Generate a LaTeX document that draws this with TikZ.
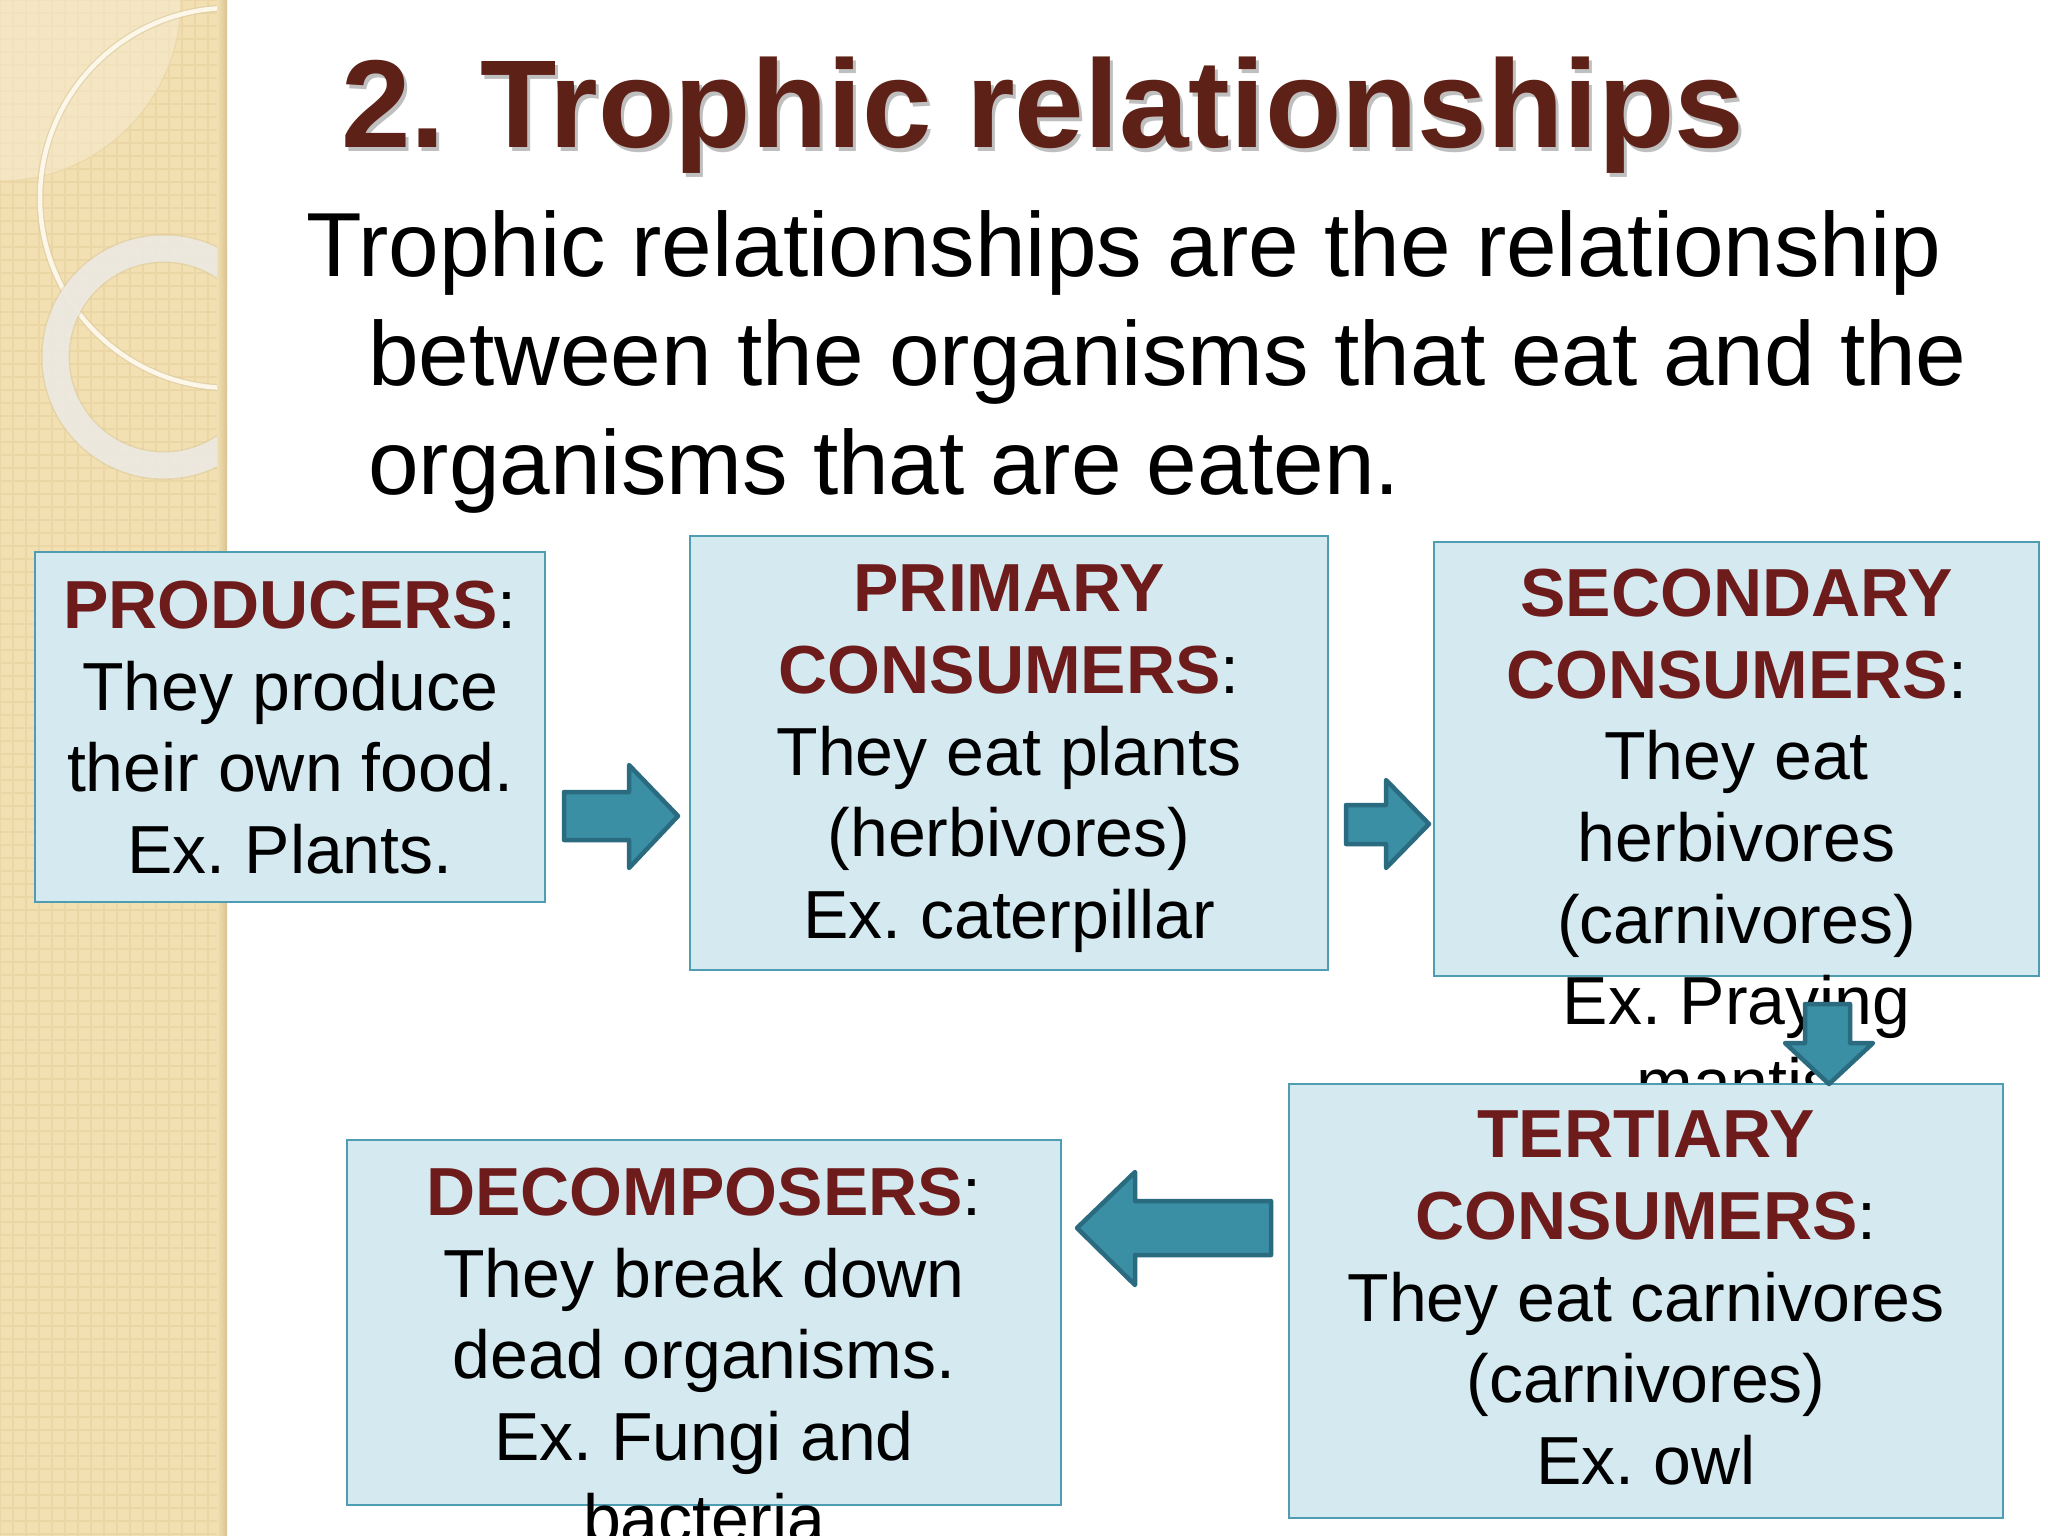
\documentclass[tikz,border=0pt]{standalone}
\usepackage{fontspec}
\setmainfont{Liberation Sans}
\usetikzlibrary{calc}
\frenchspacing

\definecolor{strip}{HTML}{F2E0B2}
\definecolor{stripdk}{HTML}{EBD7A6}
\definecolor{stripedge}{HTML}{D8C390}
\definecolor{leaf}{HTML}{F6EACD}
\definecolor{ringc}{HTML}{EDEAE2}
\definecolor{ringedge}{HTML}{D9C9A0}
\definecolor{thinring}{HTML}{FCF7E8}
\definecolor{titlered}{HTML}{5E2118}
\definecolor{headred}{HTML}{6E1B1B}
\definecolor{boxfill}{HTML}{D5E9F0}
\definecolor{boxline}{HTML}{4E9DB2}
\definecolor{arrfill}{HTML}{3A8FA5}
\definecolor{arrline}{HTML}{2B6B80}

\newcommand{\hd}{\bfseries\color{headred}}

\begin{document}
\begin{tikzpicture}[x=1pt,y=-1pt,
  box/.style={draw=boxline, line width=2.2pt, fill=boxfill, inner sep=0pt, anchor=north west},
  boxtext/.style={anchor=north, align=center, inner sep=0pt, font=\fontsize{68}{81.6}\selectfont},
  bodytext/.style={anchor=base west, inner sep=0pt, font=\fontsize{91}{109}\selectfont},
  blockarrow/.style={draw=arrline, fill=arrfill, line width=4.5pt, line join=round}]

\useasboundingbox (0,0) rectangle (2048,1536);
\clip (0,0) rectangle (2048,1536);
\fill[white] (0,0) rectangle (2048,1536);

% left decorative strip
\begin{scope}
  \clip (0,0) rectangle (227,1536);
  \fill[strip] (0,0) rectangle (227,1536);
  \draw[stripdk, line width=1.2pt, step=13pt] (0,0) grid (227,1536);
  \fill[leaf, opacity=.6] (0,0) -- (181,0) arc (0:90:181) -- cycle;
  \draw[stripdk, line width=1pt] (181,0) arc (0:90:181);
  \draw[ringedge, line width=7pt, opacity=.6] (230,198) circle (190);
  \draw[thinring, line width=4.5pt] (230,198) circle (190);
  \draw[ringedge, line width=29pt, opacity=.5] (164,357) circle (108.5);
  \draw[ringc, line width=26pt, opacity=.92] (164,357) circle (108.5);
  \shade[left color=strip, right color=stripedge] (217,0) rectangle (227,1536);
\end{scope}

% title
\node[anchor=base west, inner sep=0pt, font=\fontsize{125}{130}\selectfont\bfseries, text=black, opacity=.25] (titleshadow) at (344,151) {2. Trophic relationships};
\node[anchor=base west, inner sep=0pt, font=\fontsize{125}{130}\selectfont\bfseries, text=titlered] (title) at (341,147) {2. Trophic relationships};

% body text
\node[bodytext] (body1) at (306,276) {Trophic relationships are the relationship};
\node[bodytext] (body2) at (368,385) {between the organisms that eat and the};
\node[bodytext] (body3) at (368,494) {organisms that are eaten.};

% boxes
\node[box, minimum width=510pt, minimum height=350pt] (prod) at (34,551) {};
\node[boxtext] (prodtxt) at ($(prod.north)+(0,30)$) {{\hd PRODUCERS}:\\They produce\\their own food.\\Ex. Plants.};

\node[box, minimum width=638pt, minimum height=434pt] (prim) at (689,535) {};
\node[boxtext] (primtxt) at ($(prim.north)+(0,30)$) {{\hd PRIMARY}\\{\hd CONSUMERS}:\\They eat plants\\(herbivores)\\Ex. caterpillar};

\node[box, minimum width=605pt, minimum height=434pt] (sec) at (1433,541) {};
\node[boxtext] (sectxt) at ($(sec.north)+(0,28)$) {{\hd SECONDARY}\\{\hd CONSUMERS}:\\They eat\\herbivores\\(carnivores)\\Ex. Praying\\mantis};

\node[box, minimum width=714pt, minimum height=434pt] (ter) at (1288,1083) {};
\node[boxtext] (tertxt) at ($(ter.north)+(0,28)$) {{\hd TERTIARY}\\{\hd CONSUMERS}:\\They eat carnivores\\(carnivores)\\Ex. owl};

\node[box, minimum width=714pt, minimum height=365pt] (dec) at (346,1139) {};
\node[boxtext] (dectxt) at ($(dec.north)+(0,29)$) {{\hd DECOMPOSERS}:\\They break down\\dead organisms.\\Ex. Fungi and\\bacteria};

% block arrows
\draw[blockarrow] (564,792) -- (629,792) -- (629,765) -- (678,816) -- (629,868) -- (629,840) -- (564,840) -- cycle;
\draw[blockarrow] (1346,805) -- (1386,805) -- (1386,780) -- (1429,824) -- (1386,868) -- (1386,844) -- (1346,844) -- cycle;
\draw[blockarrow] (1805,1004) -- (1850,1004) -- (1850,1043) -- (1873,1043) -- (1829,1084) -- (1785,1043) -- (1805,1043) -- cycle;
\draw[blockarrow] (1271,1201) -- (1135,1201) -- (1135,1172) -- (1077,1228) -- (1135,1285) -- (1135,1255) -- (1271,1255) -- cycle;

\end{tikzpicture}
\end{document}
